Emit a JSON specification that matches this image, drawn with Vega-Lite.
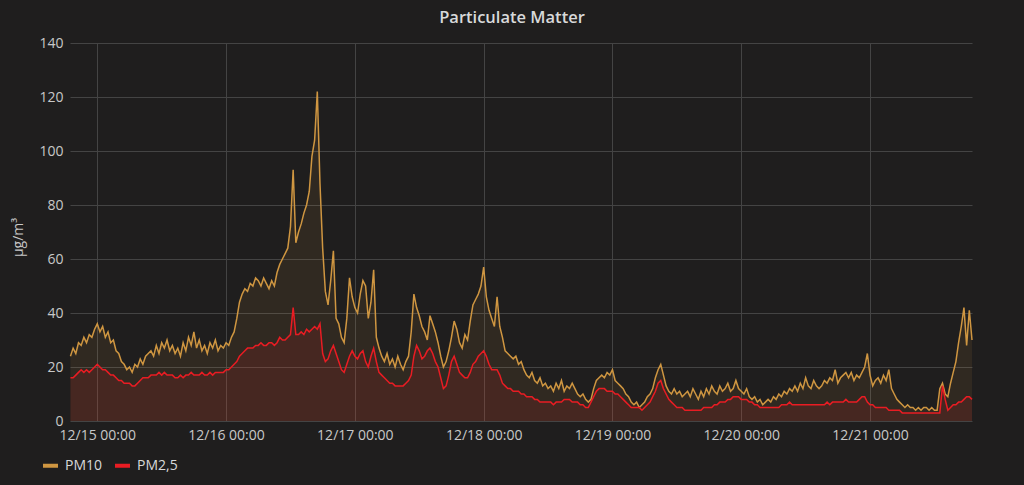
{
"$schema":"https://vega.github.io/schema/vega-lite/v6.json",
"width":902,"height":378,
"autosize":{"type":"none"},
"padding":{"left":70,"top":43,"right":52,"bottom":64},
"background":"#1f1e1e",
"title":{"text":"Particulate Matter","anchor":"middle","dx":-9,"offset":10,"fontSize":16.5,"fontWeight":600,"color":"#d8d9da","font":"Open Sans"},
"config":{"view":{"stroke":null},"font":"Open Sans",
"axis":{"domain":false,"ticks":false,"gridColor":"#444444","gridWidth":1,"labelColor":"#c8c8c8","labelFontSize":14,"titleColor":"#c8c8c8","titleFontWeight":"normal","titleFontSize":14,"labelFont":"Open Sans","titleFont":"Open Sans"},
"legend":{"labelColor":"#d8d9da","labelFontSize":14,"labelFont":"Open Sans"}},
"data":{"values":[
{"t":"2018-12-14T19:00","PM10":24,"PM25":16},{"t":"2018-12-14T19:30","PM10":27,"PM25":16},{"t":"2018-12-14T20:00","PM10":25,"PM25":17},{"t":"2018-12-14T20:30","PM10":29,"PM25":18},{"t":"2018-12-14T21:00","PM10":28,"PM25":19},{"t":"2018-12-14T21:30","PM10":31,"PM25":18},{"t":"2018-12-14T22:00","PM10":29,"PM25":19},{"t":"2018-12-14T22:30","PM10":32,"PM25":18},{"t":"2018-12-14T23:00","PM10":31,"PM25":19},{"t":"2018-12-14T23:30","PM10":34,"PM25":20},
{"t":"2018-12-15T00:00","PM10":36,"PM25":21},{"t":"2018-12-15T00:30","PM10":33,"PM25":20},{"t":"2018-12-15T01:00","PM10":35,"PM25":19},{"t":"2018-12-15T01:30","PM10":31,"PM25":19},{"t":"2018-12-15T02:00","PM10":33,"PM25":18},{"t":"2018-12-15T02:30","PM10":29,"PM25":17},{"t":"2018-12-15T03:00","PM10":30,"PM25":17},{"t":"2018-12-15T03:30","PM10":26,"PM25":16},{"t":"2018-12-15T04:00","PM10":25,"PM25":15},{"t":"2018-12-15T04:30","PM10":22,"PM25":15},
{"t":"2018-12-15T05:00","PM10":21,"PM25":14},{"t":"2018-12-15T05:30","PM10":19,"PM25":14},{"t":"2018-12-15T06:00","PM10":20,"PM25":14},{"t":"2018-12-15T06:30","PM10":18,"PM25":13},{"t":"2018-12-15T07:00","PM10":21,"PM25":13},{"t":"2018-12-15T07:30","PM10":20,"PM25":14},{"t":"2018-12-15T08:00","PM10":23,"PM25":15},{"t":"2018-12-15T08:30","PM10":21,"PM25":16},{"t":"2018-12-15T09:00","PM10":24,"PM25":16},{"t":"2018-12-15T09:30","PM10":25,"PM25":16},
{"t":"2018-12-15T10:00","PM10":26,"PM25":17},{"t":"2018-12-15T10:30","PM10":24,"PM25":17},{"t":"2018-12-15T11:00","PM10":28,"PM25":17},{"t":"2018-12-15T11:30","PM10":25,"PM25":18},{"t":"2018-12-15T12:00","PM10":29,"PM25":17},{"t":"2018-12-15T12:30","PM10":27,"PM25":18},{"t":"2018-12-15T13:00","PM10":30,"PM25":17},{"t":"2018-12-15T13:30","PM10":26,"PM25":17},{"t":"2018-12-15T14:00","PM10":28,"PM25":17},{"t":"2018-12-15T14:30","PM10":25,"PM25":16},
{"t":"2018-12-15T15:00","PM10":27,"PM25":16},{"t":"2018-12-15T15:30","PM10":24,"PM25":17},{"t":"2018-12-15T16:00","PM10":29,"PM25":16},{"t":"2018-12-15T16:30","PM10":26,"PM25":17},{"t":"2018-12-15T17:00","PM10":31,"PM25":17},{"t":"2018-12-15T17:30","PM10":28,"PM25":18},{"t":"2018-12-15T18:00","PM10":33,"PM25":17},{"t":"2018-12-15T18:30","PM10":27,"PM25":17},{"t":"2018-12-15T19:00","PM10":30,"PM25":17},{"t":"2018-12-15T19:30","PM10":26,"PM25":18},
{"t":"2018-12-15T20:00","PM10":28,"PM25":17},{"t":"2018-12-15T20:30","PM10":25,"PM25":17},{"t":"2018-12-15T21:00","PM10":29,"PM25":18},{"t":"2018-12-15T21:30","PM10":27,"PM25":17},{"t":"2018-12-15T22:00","PM10":30,"PM25":18},{"t":"2018-12-15T22:30","PM10":26,"PM25":18},{"t":"2018-12-15T23:00","PM10":28,"PM25":18},{"t":"2018-12-15T23:30","PM10":27,"PM25":18},
{"t":"2018-12-16T00:00","PM10":29,"PM25":19},{"t":"2018-12-16T00:30","PM10":28,"PM25":19},
{"t":"2018-12-16T01:00","PM10":31,"PM25":20},{"t":"2018-12-16T01:30","PM10":33,"PM25":21},{"t":"2018-12-16T02:00","PM10":38,"PM25":22},{"t":"2018-12-16T02:30","PM10":44,"PM25":24},{"t":"2018-12-16T03:00","PM10":47,"PM25":25},{"t":"2018-12-16T03:30","PM10":49,"PM25":26},{"t":"2018-12-16T04:00","PM10":48,"PM25":27},{"t":"2018-12-16T04:30","PM10":51,"PM25":27},{"t":"2018-12-16T05:00","PM10":50,"PM25":27},{"t":"2018-12-16T05:30","PM10":53,"PM25":28},
{"t":"2018-12-16T06:00","PM10":52,"PM25":28},{"t":"2018-12-16T06:30","PM10":50,"PM25":29},{"t":"2018-12-16T07:00","PM10":53,"PM25":28},{"t":"2018-12-16T07:30","PM10":51,"PM25":28},{"t":"2018-12-16T08:00","PM10":49,"PM25":29},{"t":"2018-12-16T08:30","PM10":52,"PM25":29},{"t":"2018-12-16T09:00","PM10":50,"PM25":28},{"t":"2018-12-16T09:30","PM10":55,"PM25":29},{"t":"2018-12-16T10:00","PM10":58,"PM25":31},{"t":"2018-12-16T10:30","PM10":60,"PM25":30},
{"t":"2018-12-16T11:00","PM10":62,"PM25":30},{"t":"2018-12-16T11:30","PM10":64,"PM25":31},{"t":"2018-12-16T12:00","PM10":72,"PM25":32},{"t":"2018-12-16T12:30","PM10":93,"PM25":42},{"t":"2018-12-16T13:00","PM10":66,"PM25":32},{"t":"2018-12-16T13:30","PM10":70,"PM25":32},{"t":"2018-12-16T14:00","PM10":73,"PM25":33},{"t":"2018-12-16T14:30","PM10":77,"PM25":32},{"t":"2018-12-16T15:00","PM10":80,"PM25":34},{"t":"2018-12-16T15:30","PM10":85,"PM25":33},
{"t":"2018-12-16T16:00","PM10":98,"PM25":34},{"t":"2018-12-16T16:30","PM10":104,"PM25":35},{"t":"2018-12-16T17:00","PM10":122,"PM25":34},{"t":"2018-12-16T17:30","PM10":88,"PM25":36},{"t":"2018-12-16T18:00","PM10":64,"PM25":25},{"t":"2018-12-16T18:30","PM10":48,"PM25":22},{"t":"2018-12-16T19:00","PM10":43,"PM25":23},{"t":"2018-12-16T19:30","PM10":52,"PM25":26},{"t":"2018-12-16T20:00","PM10":63,"PM25":28},{"t":"2018-12-16T20:30","PM10":38,"PM25":25},
{"t":"2018-12-16T21:00","PM10":36,"PM25":22},{"t":"2018-12-16T21:30","PM10":31,"PM25":19},{"t":"2018-12-16T22:00","PM10":29,"PM25":18},{"t":"2018-12-16T22:30","PM10":38,"PM25":21},{"t":"2018-12-16T23:00","PM10":53,"PM25":24},{"t":"2018-12-16T23:30","PM10":46,"PM25":26},
{"t":"2018-12-17T00:00","PM10":42,"PM25":24},{"t":"2018-12-17T00:30","PM10":40,"PM25":23},{"t":"2018-12-17T01:00","PM10":47,"PM25":25},{"t":"2018-12-17T01:30","PM10":52,"PM25":26},
{"t":"2018-12-17T02:00","PM10":50,"PM25":22},{"t":"2018-12-17T02:30","PM10":38,"PM25":20},{"t":"2018-12-17T03:00","PM10":44,"PM25":24},{"t":"2018-12-17T03:30","PM10":56,"PM25":27},{"t":"2018-12-17T04:00","PM10":31,"PM25":22},{"t":"2018-12-17T04:30","PM10":27,"PM25":18},{"t":"2018-12-17T05:00","PM10":24,"PM25":17},{"t":"2018-12-17T05:30","PM10":22,"PM25":16},{"t":"2018-12-17T06:00","PM10":25,"PM25":15},{"t":"2018-12-17T06:30","PM10":21,"PM25":14},
{"t":"2018-12-17T07:00","PM10":23,"PM25":14},{"t":"2018-12-17T07:30","PM10":20,"PM25":13},{"t":"2018-12-17T08:00","PM10":24,"PM25":13},{"t":"2018-12-17T08:30","PM10":21,"PM25":13},{"t":"2018-12-17T09:00","PM10":19,"PM25":13},{"t":"2018-12-17T09:30","PM10":22,"PM25":14},{"t":"2018-12-17T10:00","PM10":24,"PM25":15},{"t":"2018-12-17T10:30","PM10":33,"PM25":17},{"t":"2018-12-17T11:00","PM10":47,"PM25":24},{"t":"2018-12-17T11:30","PM10":42,"PM25":28},
{"t":"2018-12-17T12:00","PM10":39,"PM25":26},{"t":"2018-12-17T12:30","PM10":35,"PM25":23},{"t":"2018-12-17T13:00","PM10":33,"PM25":24},{"t":"2018-12-17T13:30","PM10":30,"PM25":26},{"t":"2018-12-17T14:00","PM10":39,"PM25":27},{"t":"2018-12-17T14:30","PM10":36,"PM25":25},{"t":"2018-12-17T15:00","PM10":33,"PM25":22},{"t":"2018-12-17T15:30","PM10":29,"PM25":20},{"t":"2018-12-17T16:00","PM10":24,"PM25":16},{"t":"2018-12-17T16:30","PM10":20,"PM25":12},
{"t":"2018-12-17T17:00","PM10":22,"PM25":13},{"t":"2018-12-17T17:30","PM10":26,"PM25":17},{"t":"2018-12-17T18:00","PM10":31,"PM25":22},{"t":"2018-12-17T18:30","PM10":37,"PM25":24},{"t":"2018-12-17T19:00","PM10":34,"PM25":21},{"t":"2018-12-17T19:30","PM10":29,"PM25":18},{"t":"2018-12-17T20:00","PM10":27,"PM25":17},{"t":"2018-12-17T20:30","PM10":32,"PM25":16},{"t":"2018-12-17T21:00","PM10":30,"PM25":16},{"t":"2018-12-17T21:30","PM10":37,"PM25":18},
{"t":"2018-12-17T22:00","PM10":43,"PM25":21},{"t":"2018-12-17T22:30","PM10":45,"PM25":22},{"t":"2018-12-17T23:00","PM10":47,"PM25":24},{"t":"2018-12-17T23:30","PM10":50,"PM25":25},
{"t":"2018-12-18T00:00","PM10":57,"PM25":26},{"t":"2018-12-18T00:30","PM10":46,"PM25":24},{"t":"2018-12-18T01:00","PM10":41,"PM25":21},{"t":"2018-12-18T01:30","PM10":38,"PM25":19},{"t":"2018-12-18T02:00","PM10":35,"PM25":19},{"t":"2018-12-18T02:30","PM10":46,"PM25":19},
{"t":"2018-12-18T03:00","PM10":35,"PM25":17},{"t":"2018-12-18T03:30","PM10":31,"PM25":14},{"t":"2018-12-18T04:00","PM10":26,"PM25":13},{"t":"2018-12-18T04:30","PM10":25,"PM25":12},{"t":"2018-12-18T05:00","PM10":24,"PM25":12},{"t":"2018-12-18T05:30","PM10":23,"PM25":11},{"t":"2018-12-18T06:00","PM10":24,"PM25":11},{"t":"2018-12-18T06:30","PM10":21,"PM25":11},{"t":"2018-12-18T07:00","PM10":22,"PM25":10},{"t":"2018-12-18T07:30","PM10":19,"PM25":10},
{"t":"2018-12-18T08:00","PM10":17,"PM25":9},{"t":"2018-12-18T08:30","PM10":16,"PM25":9},{"t":"2018-12-18T09:00","PM10":18,"PM25":9},{"t":"2018-12-18T09:30","PM10":15,"PM25":8},{"t":"2018-12-18T10:00","PM10":14,"PM25":8},{"t":"2018-12-18T10:30","PM10":16,"PM25":7},{"t":"2018-12-18T11:00","PM10":13,"PM25":7},{"t":"2018-12-18T11:30","PM10":14,"PM25":7},{"t":"2018-12-18T12:00","PM10":12,"PM25":7},{"t":"2018-12-18T12:30","PM10":13,"PM25":7},
{"t":"2018-12-18T13:00","PM10":11,"PM25":6},{"t":"2018-12-18T13:30","PM10":14,"PM25":7},{"t":"2018-12-18T14:00","PM10":12,"PM25":7},{"t":"2018-12-18T14:30","PM10":15,"PM25":7},{"t":"2018-12-18T15:00","PM10":11,"PM25":8},{"t":"2018-12-18T15:30","PM10":13,"PM25":8},{"t":"2018-12-18T16:00","PM10":12,"PM25":8},{"t":"2018-12-18T16:30","PM10":14,"PM25":7},{"t":"2018-12-18T17:00","PM10":12,"PM25":7},{"t":"2018-12-18T17:30","PM10":10,"PM25":7},
{"t":"2018-12-18T18:00","PM10":9,"PM25":6},{"t":"2018-12-18T18:30","PM10":10,"PM25":6},{"t":"2018-12-18T19:00","PM10":8,"PM25":5},{"t":"2018-12-18T19:30","PM10":7,"PM25":5},{"t":"2018-12-18T20:00","PM10":8,"PM25":7},{"t":"2018-12-18T20:30","PM10":12,"PM25":9},{"t":"2018-12-18T21:00","PM10":15,"PM25":11},{"t":"2018-12-18T21:30","PM10":16,"PM25":12},{"t":"2018-12-18T22:00","PM10":17,"PM25":12},{"t":"2018-12-18T22:30","PM10":16,"PM25":12},
{"t":"2018-12-18T23:00","PM10":18,"PM25":11},{"t":"2018-12-18T23:30","PM10":17,"PM25":11},
{"t":"2018-12-19T00:00","PM10":19,"PM25":11},{"t":"2018-12-19T00:30","PM10":15,"PM25":10},{"t":"2018-12-19T01:00","PM10":14,"PM25":10},{"t":"2018-12-19T01:30","PM10":13,"PM25":9},{"t":"2018-12-19T02:00","PM10":12,"PM25":8},{"t":"2018-12-19T02:30","PM10":10,"PM25":7},{"t":"2018-12-19T03:00","PM10":9,"PM25":6},{"t":"2018-12-19T03:30","PM10":7,"PM25":5},
{"t":"2018-12-19T04:00","PM10":6,"PM25":5},{"t":"2018-12-19T04:30","PM10":7,"PM25":5},{"t":"2018-12-19T05:00","PM10":5,"PM25":5},{"t":"2018-12-19T05:30","PM10":6,"PM25":4},{"t":"2018-12-19T06:00","PM10":7,"PM25":5},{"t":"2018-12-19T06:30","PM10":9,"PM25":6},{"t":"2018-12-19T07:00","PM10":10,"PM25":7},{"t":"2018-12-19T07:30","PM10":12,"PM25":9},{"t":"2018-12-19T08:00","PM10":16,"PM25":11},{"t":"2018-12-19T08:30","PM10":19,"PM25":14},
{"t":"2018-12-19T09:00","PM10":21,"PM25":15},{"t":"2018-12-19T09:30","PM10":17,"PM25":12},{"t":"2018-12-19T10:00","PM10":13,"PM25":10},{"t":"2018-12-19T10:30","PM10":11,"PM25":8},{"t":"2018-12-19T11:00","PM10":10,"PM25":7},{"t":"2018-12-19T11:30","PM10":12,"PM25":6},{"t":"2018-12-19T12:00","PM10":10,"PM25":5},{"t":"2018-12-19T12:30","PM10":11,"PM25":5},{"t":"2018-12-19T13:00","PM10":9,"PM25":5},{"t":"2018-12-19T13:30","PM10":10,"PM25":4},
{"t":"2018-12-19T14:00","PM10":11,"PM25":4},{"t":"2018-12-19T14:30","PM10":9,"PM25":4},{"t":"2018-12-19T15:00","PM10":12,"PM25":4},{"t":"2018-12-19T15:30","PM10":10,"PM25":4},{"t":"2018-12-19T16:00","PM10":8,"PM25":4},{"t":"2018-12-19T16:30","PM10":11,"PM25":4},{"t":"2018-12-19T17:00","PM10":9,"PM25":5},{"t":"2018-12-19T17:30","PM10":12,"PM25":5},{"t":"2018-12-19T18:00","PM10":10,"PM25":5},{"t":"2018-12-19T18:30","PM10":13,"PM25":5},
{"t":"2018-12-19T19:00","PM10":11,"PM25":6},{"t":"2018-12-19T19:30","PM10":10,"PM25":6},{"t":"2018-12-19T20:00","PM10":13,"PM25":7},{"t":"2018-12-19T20:30","PM10":11,"PM25":7},{"t":"2018-12-19T21:00","PM10":12,"PM25":7},{"t":"2018-12-19T21:30","PM10":14,"PM25":8},{"t":"2018-12-19T22:00","PM10":11,"PM25":8},{"t":"2018-12-19T22:30","PM10":12,"PM25":9},{"t":"2018-12-19T23:00","PM10":15,"PM25":9},{"t":"2018-12-19T23:30","PM10":12,"PM25":9},
{"t":"2018-12-20T00:00","PM10":11,"PM25":8},{"t":"2018-12-20T00:30","PM10":10,"PM25":8},{"t":"2018-12-20T01:00","PM10":12,"PM25":8},{"t":"2018-12-20T01:30","PM10":9,"PM25":7},{"t":"2018-12-20T02:00","PM10":8,"PM25":7},{"t":"2018-12-20T02:30","PM10":9,"PM25":6},{"t":"2018-12-20T03:00","PM10":7,"PM25":6},{"t":"2018-12-20T03:30","PM10":8,"PM25":5},{"t":"2018-12-20T04:00","PM10":6,"PM25":5},{"t":"2018-12-20T04:30","PM10":7,"PM25":5},
{"t":"2018-12-20T05:00","PM10":8,"PM25":5},{"t":"2018-12-20T05:30","PM10":7,"PM25":5},{"t":"2018-12-20T06:00","PM10":9,"PM25":5},{"t":"2018-12-20T06:30","PM10":8,"PM25":5},{"t":"2018-12-20T07:00","PM10":10,"PM25":5},{"t":"2018-12-20T07:30","PM10":9,"PM25":6},{"t":"2018-12-20T08:00","PM10":11,"PM25":6},{"t":"2018-12-20T08:30","PM10":10,"PM25":6},{"t":"2018-12-20T09:00","PM10":12,"PM25":7},{"t":"2018-12-20T09:30","PM10":11,"PM25":6},
{"t":"2018-12-20T10:00","PM10":13,"PM25":6},{"t":"2018-12-20T10:30","PM10":11,"PM25":6},{"t":"2018-12-20T11:00","PM10":14,"PM25":6},{"t":"2018-12-20T11:30","PM10":12,"PM25":6},{"t":"2018-12-20T12:00","PM10":16,"PM25":6},{"t":"2018-12-20T12:30","PM10":13,"PM25":6},{"t":"2018-12-20T13:00","PM10":12,"PM25":6},{"t":"2018-12-20T13:30","PM10":15,"PM25":6},{"t":"2018-12-20T14:00","PM10":13,"PM25":6},{"t":"2018-12-20T14:30","PM10":12,"PM25":6},
{"t":"2018-12-20T15:00","PM10":13,"PM25":6},{"t":"2018-12-20T15:30","PM10":15,"PM25":6},{"t":"2018-12-20T16:00","PM10":14,"PM25":7},{"t":"2018-12-20T16:30","PM10":16,"PM25":6},{"t":"2018-12-20T17:00","PM10":15,"PM25":7},{"t":"2018-12-20T17:30","PM10":19,"PM25":7},{"t":"2018-12-20T18:00","PM10":14,"PM25":7},{"t":"2018-12-20T18:30","PM10":16,"PM25":7},{"t":"2018-12-20T19:00","PM10":17,"PM25":7},{"t":"2018-12-20T19:30","PM10":18,"PM25":8},
{"t":"2018-12-20T20:00","PM10":16,"PM25":7},{"t":"2018-12-20T20:30","PM10":18,"PM25":7},{"t":"2018-12-20T21:00","PM10":15,"PM25":7},{"t":"2018-12-20T21:30","PM10":17,"PM25":7},{"t":"2018-12-20T22:00","PM10":16,"PM25":8},{"t":"2018-12-20T22:30","PM10":18,"PM25":9},{"t":"2018-12-20T23:00","PM10":20,"PM25":9},{"t":"2018-12-20T23:30","PM10":25,"PM25":7},
{"t":"2018-12-21T00:00","PM10":17,"PM25":6},{"t":"2018-12-21T00:30","PM10":13,"PM25":6},
{"t":"2018-12-21T01:00","PM10":15,"PM25":5},{"t":"2018-12-21T01:30","PM10":16,"PM25":5},{"t":"2018-12-21T02:00","PM10":14,"PM25":5},{"t":"2018-12-21T02:30","PM10":17,"PM25":5},{"t":"2018-12-21T03:00","PM10":15,"PM25":5},{"t":"2018-12-21T03:30","PM10":19,"PM25":4},{"t":"2018-12-21T04:00","PM10":12,"PM25":4},{"t":"2018-12-21T04:30","PM10":10,"PM25":4},{"t":"2018-12-21T05:00","PM10":8,"PM25":4},{"t":"2018-12-21T05:30","PM10":7,"PM25":4},
{"t":"2018-12-21T06:00","PM10":6,"PM25":3},{"t":"2018-12-21T06:30","PM10":5,"PM25":3},{"t":"2018-12-21T07:00","PM10":6,"PM25":3},{"t":"2018-12-21T07:30","PM10":5,"PM25":3},{"t":"2018-12-21T08:00","PM10":5,"PM25":3},{"t":"2018-12-21T08:30","PM10":4,"PM25":3},{"t":"2018-12-21T09:00","PM10":5,"PM25":3},{"t":"2018-12-21T09:30","PM10":4,"PM25":3},{"t":"2018-12-21T10:00","PM10":5,"PM25":3},{"t":"2018-12-21T10:30","PM10":5,"PM25":3},
{"t":"2018-12-21T11:00","PM10":4,"PM25":3},{"t":"2018-12-21T11:30","PM10":5,"PM25":3},{"t":"2018-12-21T12:00","PM10":4,"PM25":3},{"t":"2018-12-21T12:30","PM10":4,"PM25":3},{"t":"2018-12-21T13:00","PM10":12,"PM25":3},{"t":"2018-12-21T13:30","PM10":14,"PM25":13},{"t":"2018-12-21T14:00","PM10":10,"PM25":8},{"t":"2018-12-21T14:30","PM10":9,"PM25":4},{"t":"2018-12-21T15:00","PM10":14,"PM25":5},{"t":"2018-12-21T15:30","PM10":18,"PM25":6},
{"t":"2018-12-21T16:00","PM10":22,"PM25":6},{"t":"2018-12-21T16:30","PM10":29,"PM25":7},{"t":"2018-12-21T17:00","PM10":35,"PM25":7},{"t":"2018-12-21T17:30","PM10":42,"PM25":8},{"t":"2018-12-21T18:00","PM10":28,"PM25":9},{"t":"2018-12-21T18:30","PM10":41,"PM25":9},{"t":"2018-12-21T19:00","PM10":30,"PM25":8}
]},
"encoding":{
"x":{"field":"t","type":"temporal","scale":{"domain":[{"year":2018,"month":12,"date":14,"hours":18,"minutes":55},{"year":2018,"month":12,"date":21,"hours":19}]},
"axis":{"title":null,"format":"%m/%d %H:%M","tickCount":{"interval":"day","step":1},"labelPadding":7,"labelFlush":false}}
},
"layer":[
{"mark":{"type":"area","color":"#cf9641","fillOpacity":0.1},
"encoding":{"y":{"field":"PM10","type":"quantitative","scale":{"domain":[0,140],"nice":false},"axis":{"values":[0,20,40,60,80,100,120,140],"title":"µg/m³","labelPadding":7,"titleAngle":-90,"titleX":-52,"titleY":194,"titleAlign":"center","titleBaseline":"middle"}}}},
{"mark":{"type":"area","color":"#e91c23","fillOpacity":0.12},
"encoding":{"y":{"field":"PM25","type":"quantitative"}}},
{"mark":{"type":"line","strokeWidth":1.5},
"encoding":{"y":{"field":"PM10","type":"quantitative"},"color":{"datum":"PM10","scale":{"domain":["PM10","PM2,5"],"range":["#cf9641","#e91c23"]},"legend":{"title":null,"orient":"none","legendX":-29,"legendY":413,"direction":"horizontal","symbolType":"stroke","symbolSize":225,"symbolStrokeWidth":4,"padding":0,"labelOffset":5,"columnPadding":4}}}},
{"mark":{"type":"line","strokeWidth":1.5},
"encoding":{"y":{"field":"PM25","type":"quantitative"},"color":{"datum":"PM2,5"}}}
]
}
